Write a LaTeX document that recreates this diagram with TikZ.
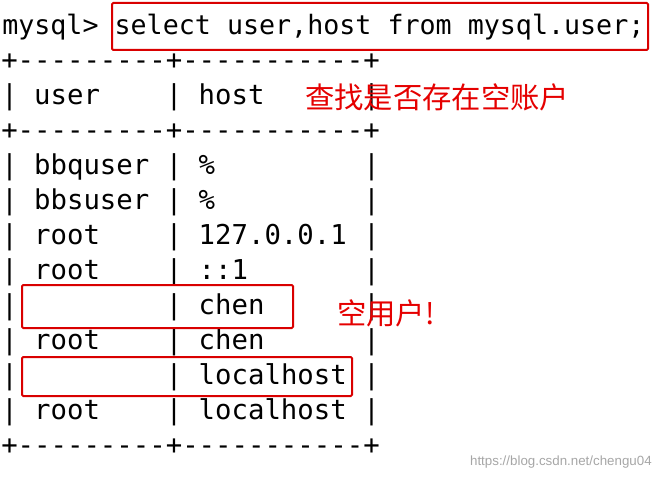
\documentclass[tikz,border=0pt]{standalone}
\usepackage{fontspec}
\setmonofont{DejaVu Sans Mono}
\newfontfamily\cjk{Noto Sans CJK SC}
\newfontfamily\wm{Liberation Sans}
\usetikzlibrary{positioning}

\tikzset{
  termline/.style={anchor=west, inner sep=0pt, font=\ttfamily\fontsize{20.5pt}{20.5pt}\selectfont},
  cmdline/.style={termline, font=\ttfamily\fontsize{20pt}{20pt}\selectfont},
  redbox/.style={draw=red!85!black, line width=1.5pt, rounded corners=1pt},
  note/.style={anchor=west, inner sep=0pt, text=red!90!black, font=\cjk\fontsize{22pt}{22pt}\selectfont}
}

\begin{document}
\begin{tikzpicture}[x=0.75pt,y=-0.75pt]
\useasboundingbox (0,0) rectangle (661,478);
% terminal text
\node[cmdline] (cmd) at (2,27) {mysql>~select~user,host~from~mysql.user;};
\foreach \row/\txt in {
  1/{+---------+-----------+},
  2/{|~user~~~~|~host~~~~~~|},
  3/{+---------+-----------+},
  4/{|~bbquser~|~\%~~~~~~~~~|},
  5/{|~bbsuser~|~\%~~~~~~~~~|},
  6/{|~root~~~~|~127.0.0.1~|},
  7/{|~root~~~~|~::1~~~~~~~|},
  8/{|~~~~~~~~~|~chen~~~~~~|},
  9/{|~root~~~~|~chen~~~~~~|},
  10/{|~~~~~~~~~|~localhost~|},
  11/{|~root~~~~|~localhost~|},
  12/{+---------+-----------+}}
  \node[termline] (row\row) at (1,27+35*\row) {\txt};
% marks
\draw[redbox] (112,3) rectangle (648,50);
\draw[redbox] (22,285) rectangle (293,328);
\draw[redbox] (22,357) rectangle (352,396);
\node[note] (find) at (305,97) {查找是否存在空账户};
\node[note] (empty) at (337,313) {空用户!};
\node[anchor=east, inner sep=0pt, text=gray!70, font=\wm\fontsize{10pt}{10pt}\selectfont] (mark) at (652,462) {https://blog.csdn.net/chengu04};
\end{tikzpicture}
\end{document}
